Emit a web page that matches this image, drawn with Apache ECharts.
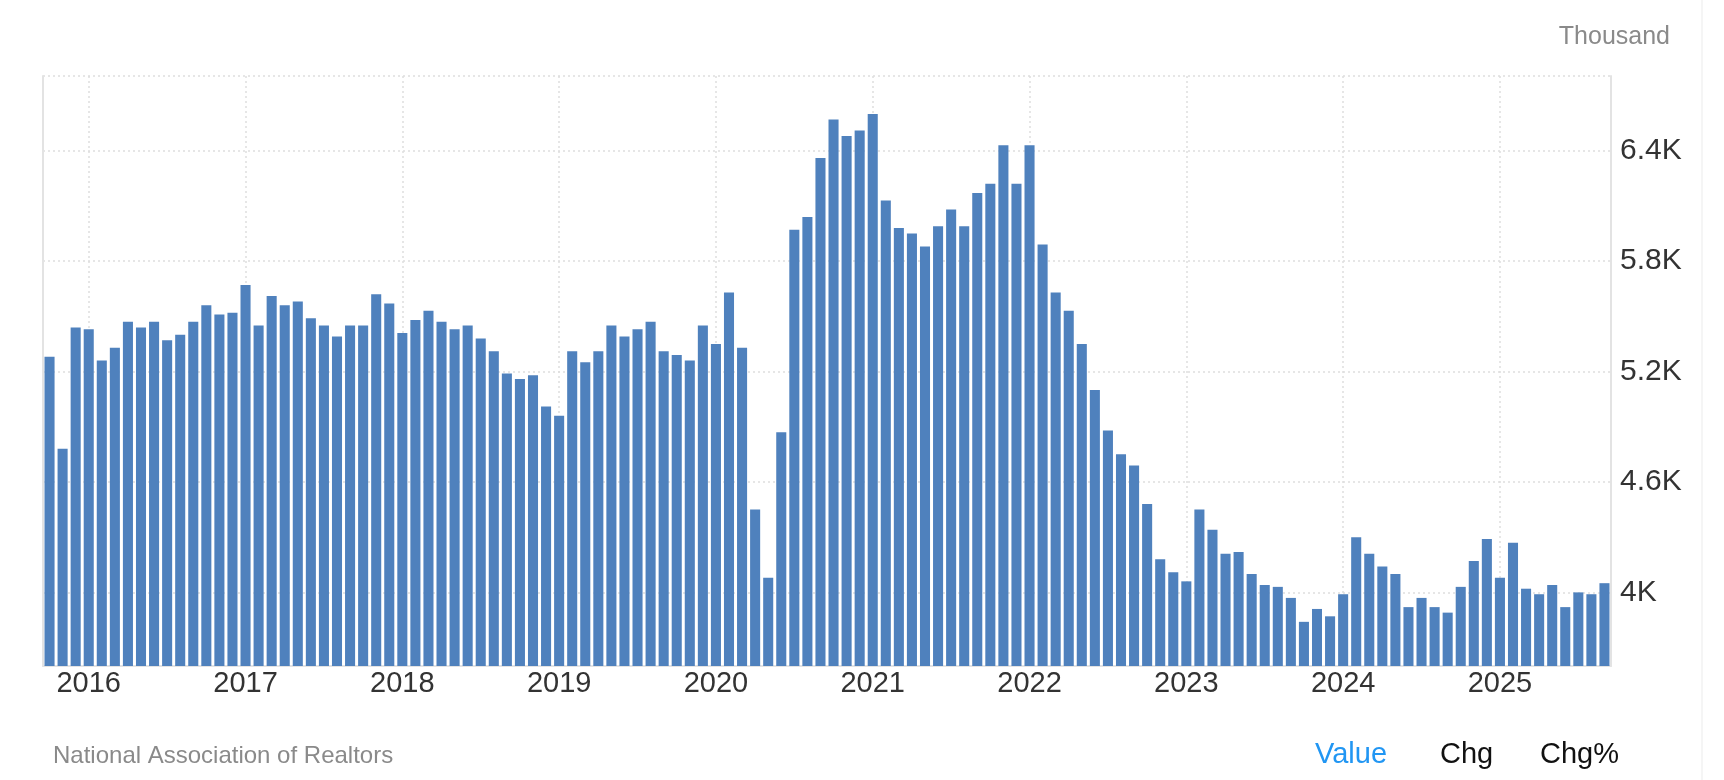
<!DOCTYPE html>
<html>
<head>
<meta charset="utf-8">
<script src="https://cdn.jsdelivr.net/npm/echarts@6/dist/echarts.min.js"></script>
<style>
html,body{margin:0;padding:0;background:#fff;}
#chart{width:1724px;height:780px;}
</style>
</head>
<body>
<div id="chart"></div>
<script>
// Existing home sales (thousand), monthly Oct 2015 - Sep 2025
const startYear = 2015, startMonth = 10, monthCount = 120;
const categories = [];
for (let i = 0; i < monthCount; i++) {
  const m = (startMonth - 1 + i) % 12 + 1;
  const y = startYear + Math.floor((startMonth - 1 + i) / 12);
  categories.push(y + '-' + (m < 10 ? '0' + m : m));
}
const values = [
  5280, 4780, 5440,
  5430, 5260, 5330, 5470, 5440, 5470, 5370, 5400, 5470, 5560, 5510, 5520,
  5670, 5450, 5610, 5560, 5580, 5490, 5450, 5390, 5450, 5450, 5620, 5570,
  5410, 5480, 5530, 5470, 5430, 5450, 5380, 5310, 5190, 5160, 5180, 5010,
  4960, 5310, 5250, 5310, 5450, 5390, 5430, 5470, 5310, 5290, 5260, 5450,
  5350, 5630, 5330, 4450, 4080, 4870, 5970, 6040, 6360, 6570, 6480, 6510,
  6600, 6130, 5980, 5950, 5880, 5990, 6080, 5990, 6170, 6220, 6430, 6220,
  6430, 5890, 5630, 5530, 5350, 5100, 4880, 4750, 4690, 4480, 4180, 4110,
  4060, 4450, 4340, 4210, 4220, 4100, 4040, 4030, 3970, 3840, 3910, 3870,
  3990, 4300, 4210, 4140, 4100, 3920, 3970, 3920, 3890, 4030, 4170, 4290,
  4080, 4270, 4020, 3990, 4040, 3920, 4000, 3990, 4050
];
const yMin = 3600, yMax = 6806;
const yTickValues = [4000, 4600, 5200, 5800, 6400];
const yGridValues = [4000, 4600, 5200, 5800, 6400, yMax];
const unitLabel = 'Thousand';
const sourceLabel = 'National Association of Realtors';
const tabLabels = ['Value', 'Chg', 'Chg%'];

function isJan(idx) { return categories[idx].slice(5) === '01'; }

const chart = echarts.init(document.getElementById('chart'), null, {renderer: 'canvas'});
const FONT = '"Liberation Sans", Arial, Helvetica, sans-serif';
chart.setOption({
  animation: false,
  backgroundColor: '#ffffff',
  grid: {left: 43, right: 113, top: 76, bottom: 114, containLabel: false},
  xAxis: {
    type: 'category',
    data: categories,
    boundaryGap: true,
    axisLine: {show: true, lineStyle: {color: '#e3e3e3', width: 2}},
    axisTick: {show: false, alignWithLabel: true, interval: function (i) { return isJan(i); }},
    axisLabel: {
      interval: function (i) { return isJan(i); },
      formatter: function (v) { return v.slice(0, 4); },
      color: '#333333', fontSize: 29, fontFamily: FONT, margin: 3
    },
    splitLine: {
      show: true, alignWithLabel: true,
      interval: function (i) { return isJan(i); },
      lineStyle: {color: '#dedede', width: 1.5, type: [2, 3]}
    }
  },
  yAxis: [{
    type: 'value',
    position: 'right',
    min: yMin, max: yMax,
    axisLine: {show: true, lineStyle: {color: '#e3e3e3', width: 2}},
    axisTick: {show: false, customValues: yGridValues},
    axisLabel: {
      customValues: yTickValues,
      formatter: function (v) { return (v / 1000) + 'K'; },
      color: '#333333', fontSize: 30, fontFamily: FONT, margin: 9,
      verticalAlign: 'middle'
    },
    splitLine: {
      show: true, customValues: yGridValues,
      lineStyle: {color: '#dedede', width: 1.5, type: [2, 3]}
    }
  }, {
    type: 'value',
    position: 'left',
    min: yMin, max: yMax,
    axisLine: {show: true, lineStyle: {color: '#e3e3e3', width: 2}},
    axisTick: {show: false},
    axisLabel: {show: false},
    splitLine: {show: false}
  }],
  series: [{
    type: 'bar',
    data: values,
    yAxisIndex: 0,
    barCategoryGap: '23%',
    itemStyle: {color: '#4f81bd'},
    silent: true
  }],
  graphic: [
    {type: 'text', x: 1670, y: 37, style: {text: unitLabel, font: '25px ' + FONT, fill: '#8a8a8a', textAlign: 'right', textVerticalAlign: 'middle'}},
    {type: 'text', x: 53, y: 756, style: {text: sourceLabel, font: '24px ' + FONT, fill: '#8a8a8a', textAlign: 'left', textVerticalAlign: 'middle'}},
    {type: 'text', x: 1315, y: 755, style: {text: tabLabels[0], font: '29px ' + FONT, fill: '#2196f3', textAlign: 'left', textVerticalAlign: 'middle'}},
    {type: 'text', x: 1440, y: 755, style: {text: tabLabels[1], font: '29px ' + FONT, fill: '#111111', textAlign: 'left', textVerticalAlign: 'middle'}},
    {type: 'text', x: 1540, y: 755, style: {text: tabLabels[2], font: '29px ' + FONT, fill: '#111111', textAlign: 'left', textVerticalAlign: 'middle'}},
    {type: 'line', shape: {x1: 1702, y1: 0, x2: 1702, y2: 780}, style: {stroke: '#f2f2f2', lineWidth: 1.5}, silent: true}
  ]
});
</script>
</body>
</html>
